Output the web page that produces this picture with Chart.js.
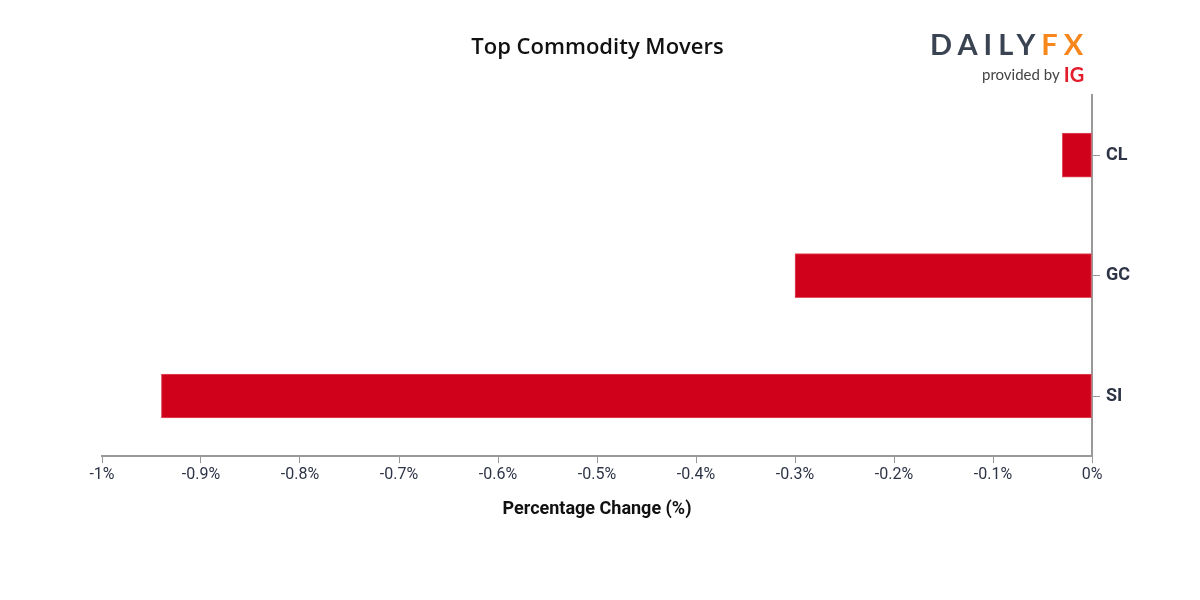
<!DOCTYPE html>
<html lang="en">
<head>
    <meta charset="UTF-8">
    <title>Top Commodity Movers</title>
    <style>
        body { margin: 0; background: #fff; }
        #wrap { position: relative; width: 1200px; height: 600px; }
        #title {
            position: absolute; left: 0; width: 1195px; top: 30px;
            text-align: center; font: 600 22px "Open Sans", sans-serif; color: #111;
        }
        #logo { position: absolute; left: 930px; top: 28px; width: 160px; }
        #logo .daily {
            font: 700 29px "Lato", sans-serif; letter-spacing: 6px; color: #3a4351; line-height: 32px;
        }
        #logo .daily span { color: #f7861c; }
        #logo .prov {
            position: absolute; left: 52px; top: 34px; white-space: nowrap;
            font: 400 15px "Lato", sans-serif; color: #444;
        }
        #logo .prov b { font: 700 20px "Lato", sans-serif; color: #e31d2b; margin-left: 4px; vertical-align: -2px; }
    </style>
    <script src="https://cdn.jsdelivr.net/npm/chart.js"></script>
</head>
<body>
<div id="wrap">
    <canvas id="chart" width="1200" height="600"></canvas>
    <div id="title">Top Commodity Movers</div>
    <div id="logo">
        <div class="daily">DAILY<span>FX</span></div>
        <div class="prov">provided by<b>IG</b></div>
    </div>
</div>
<script>
    const symbols = ['CL', 'GC', 'SI'];
    const changes = [-0.03, -0.30, -0.94];
    const xTicks = [-1, -0.9, -0.8, -0.7, -0.6, -0.5, -0.4, -0.3, -0.2, -0.1, 0];

    const textColor = '#2d3446';
    const axisColor = '#999';

    const ctx = document.getElementById('chart').getContext('2d');
    new Chart(ctx, {
        type: 'bar',
        data: {
            labels: symbols,
            datasets: [{
                data: changes,
                backgroundColor: '#d0021b',
                borderColor: '#e0505f',
                borderWidth: 1,
                borderSkipped: false,
                barThickness: 44
            }]
        },
        options: {
            indexAxis: 'y',
            responsive: false,
            animation: false,
            layout: { padding: { top: 95, left: 102, right: 0, bottom: 80 } },
            plugins: { legend: { display: false }, tooltip: { enabled: false } },
            scales: {
                x: {
                    min: -1,
                    max: 0,
                    afterBuildTicks: (axis) => { axis.ticks = xTicks.map(v => ({ value: v })); },
                    ticks: {
                        color: textColor,
                        font: { family: 'Roboto', size: 16 },
                        padding: 2,
                        callback: (v) => (Math.round(v * 10) / 10) + '%'
                    },
                    grid: { drawOnChartArea: false, color: axisColor, tickLength: 7 },
                    border: { color: axisColor, width: 2 },
                    title: {
                        display: true,
                        text: 'Percentage Change (%)',
                        color: '#111',
                        font: { family: 'Roboto', size: 18, weight: 'bold' },
                        padding: { top: 12, bottom: 0 }
                    }
                },
                y: {
                    position: 'right',
                    afterFit: (axis) => { axis.width = 108; },
                    ticks: {
                        color: textColor,
                        font: { family: 'Roboto', size: 18, weight: 'bold' },
                        padding: 6
                    },
                    grid: { drawOnChartArea: false, offset: false, color: axisColor, tickLength: 8 },
                    border: { color: axisColor, width: 2 }
                }
            }
        }
    });
</script>
</body>
</html>
